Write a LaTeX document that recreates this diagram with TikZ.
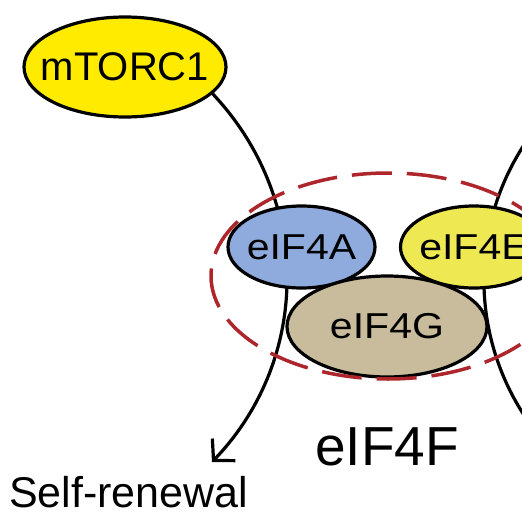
\documentclass[tikz,border=0pt]{standalone}
\usepackage{fontspec}
\setmainfont{Liberation Sans}
\usetikzlibrary{shapes.geometric,arrows.meta}
\definecolor{mtorc}{RGB}{255,235,0}
\definecolor{fourA}{RGB}{143,170,220}
\definecolor{fourE}{RGB}{238,232,82}
\definecolor{fourG}{RGB}{201,188,156}
\definecolor{dashred}{RGB}{172,38,44}
\newcommand{\widetxt}[1]{\scalebox{1.14}[1]{#1}}
\tikzset{
  blob/.style={ellipse, draw=black, line width=3.2pt, inner xsep=-20pt, inner ysep=0pt},
  labA/.style={font=\fontsize{36}{40}\selectfont},
  linkline/.style={draw=black, line width=3.2pt},
  complexline/.style={draw=dashred, line width=3.5pt, dash pattern=on 40pt off 15pt},
}
\begin{document}
\begin{tikzpicture}[x=1pt,y=-1pt]
\useasboundingbox (0,0) rectangle (522,522);
\clip (0,0) rectangle (522,522);

% nodes
\node[blob, fill=mtorc, minimum width=202pt, minimum height=100pt,
      font=\fontsize{40}{44}\selectfont] (m) at (125,67) {mTORC1};
\coordinate (sr) at (212,462);

% left connector (behind complex)
\draw[linkline, -{Straight Barb[length=15pt,width=32pt]}]
  (m.-17) .. controls (312.7,200) and (310.3,359.5) .. (sr);
% right connector (partly outside the frame)
\draw[linkline] plot[domain=140:220, samples=80]
  ({731.4+247.5*cos(\x)},{280+247.5*sin(\x)});

\node[blob, fill=fourA, minimum width=147pt, minimum height=82pt, labA] (a) at (301.5,247) {\widetxt{eIF4A}};
\node[blob, fill=fourG, minimum width=200pt, minimum height=101pt, labA] (g) at (387,326.5) {\widetxt{eIF4G}};
\node[blob, fill=fourE, minimum width=147pt, minimum height=82pt, labA] (e) at (474,247) {\widetxt{eIF4E}};

% eIF4F complex outline
\draw[complexline] (388,276) ellipse [x radius=177pt, y radius=103pt];

\node[anchor=base, inner sep=0pt, font=\fontsize{55}{60}\selectfont] (f) at (387,465) {eIF4F};
\node[anchor=base west, inner sep=0pt, font=\fontsize{43}{48}\selectfont] (s) at (9,507) {Self-renewal};
\end{tikzpicture}
\end{document}
